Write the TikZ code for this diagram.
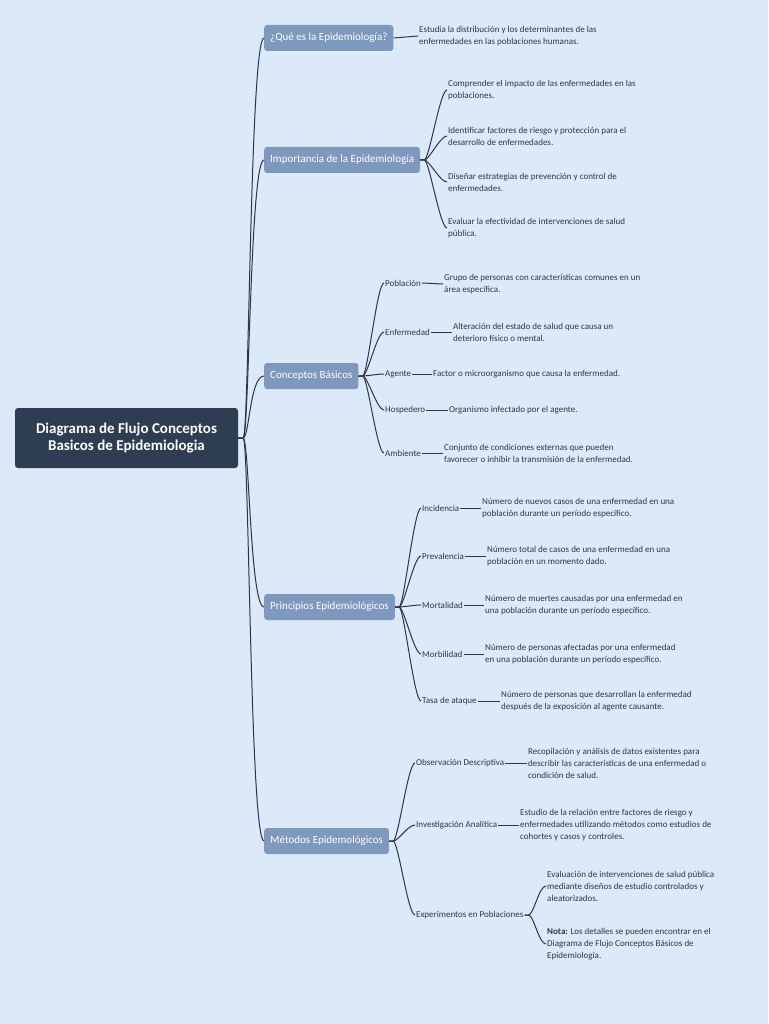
\documentclass[tikz,border=0pt]{standalone}
\usepackage{fontspec}
\setmainfont{Carlito}
\usetikzlibrary{calc}
\definecolor{bg}{HTML}{DCE9F8}
\definecolor{rootc}{HTML}{2E3D52}
\definecolor{brc}{HTML}{7E98BE}
\definecolor{linec}{HTML}{2B3648}
\definecolor{txt}{HTML}{303540}
\tikzset{
 rootbox/.style={fill=rootc,rounded corners=3pt,text=white,font=\fontsize{15}{17}\selectfont\bfseries,minimum width=223pt,minimum height=60pt,align=center},
 brbox/.style={fill=brc,rounded corners=3pt,text=white,font=\fontsize{11}{13}\selectfont,minimum height=26pt,inner xsep=6pt,anchor=west},
 leaf/.style={text=txt,font=\fontsize{9}{12}\selectfont,align=left,anchor=west,inner sep=1pt},
 conn/.style={draw=linec,line width=1pt},
}
\newcommand{\lnk}[2]{\draw[conn] (#1.east) -- ++(4,0) .. controls +(5,0) and ($(#2.west)+(-7,0)$) .. (#2.west);}
\newcommand{\dash}[2]{\draw[conn] (#1.east) -- (#2.west);}
\begin{document}
\begin{tikzpicture}[x=1pt,y=-1pt]
\fill[bg] (0,0) rectangle (768,1024);
\useasboundingbox (0,0) rectangle (768,1024);
\node[rootbox] (root) at (126.5,438) {Diagrama de Flujo Conceptos\\Basicos de Epidemiologia};
\node[brbox] (b1) at (264,38) {¿Qué es la Epidemiología?};
\node[brbox] (b2) at (264,160) {Importancia de la Epidemiología};
\node[brbox] (b3) at (264,376) {Conceptos Básicos};
\node[brbox] (b4) at (264,607) {Principios Epidemiológicos};
\node[brbox] (b5) at (264,841) {Métodos Epidemológicos};
\foreach \b in {b1,b2,b3,b4,b5}{
 \draw[conn] (root.east) -- ++(5,0) .. controls +(6,0) and ($(\b.west)+(-14,0)$) .. (\b.west);
}
% b1
\node[leaf] (q1) at (418,36) {Estudia la distribución y los determinantes de las\\enfermedades en las poblaciones humanas.};
\dash{b1}{q1}
% b2
\node[leaf] (i1) at (447,90) {Comprender el impacto de las enfermedades en las\\poblaciones.};
\node[leaf] (i2) at (447,136) {Identificar factores de riesgo y protección para el\\desarrollo de enfermedades.};
\node[leaf] (i3) at (447,182) {Diseñar estrategias de prevención y control de\\enfermedades.};
\node[leaf] (i4) at (447,228) {Evaluar la efectividad de intervenciones de salud\\pública.};
\foreach \c in {i1,i2,i3,i4}{\lnk{b2}{\c}}
% b3
\node[leaf] (c1) at (384,283) {Población};
\node[leaf] (c2) at (384,332) {Enfermedad};
\node[leaf] (c3) at (384,374) {Agente};
\node[leaf] (c4) at (384,410) {Hospedero};
\node[leaf] (c5) at (384,453) {Ambiente};
\foreach \c in {c1,c2,c3,c4,c5}{\lnk{b3}{\c}}
\node[leaf] (d1) at (443,284) {Grupo de personas con características comunes en un\\área específica.};
\node[leaf] (d2) at (452,332) {Alteración del estado de salud que causa un\\deterioro físico o mental.};
\node[leaf] (d3) at (432,374) {Factor o microorganismo que causa la enfermedad.};
\node[leaf] (d4) at (448,410) {Organismo infectado por el agente.};
\node[leaf] (d5) at (443,453) {Conjunto de condiciones externas que pueden\\favorecer o inhibir la transmisión de la enfermedad.};
\dash{c1}{d1}\dash{c2}{d2}\dash{c3}{d3}\dash{c4}{d4}\dash{c5}{d5}
% b4
\node[leaf] (p1) at (421,508) {Incidencia};
\node[leaf] (p2) at (421,556) {Prevalencia};
\node[leaf] (p3) at (421,605) {Mortalidad};
\node[leaf] (p4) at (421,654) {Morbilidad};
\node[leaf] (p5) at (421,701) {Tasa de ataque};
\foreach \c in {p1,p2,p3,p4,p5}{\lnk{b4}{\c}}
\node[leaf] (e1) at (481,508) {Número de nuevos casos de una enfermedad en una\\población durante un período específico.};
\node[leaf] (e2) at (486,556) {Número total de casos de una enfermedad en una\\población en un momento dado.};
\node[leaf] (e3) at (484,605) {Número de muertes causadas por una enfermedad en\\una población durante un período específico.};
\node[leaf] (e4) at (484,654) {Número de personas afectadas por una enfermedad\\en una población durante un período específico.};
\node[leaf] (e5) at (500,701) {Número de personas que desarrollan la enfermedad\\después de la exposición al agente causante.};
\dash{p1}{e1}\dash{p2}{e2}\dash{p3}{e3}\dash{p4}{e4}\dash{p5}{e5}
% b5
\node[leaf] (m1) at (415,763) {Observación Descriptiva};
\node[leaf] (m2) at (415,825) {Investigación Analítica};
\node[leaf] (m3) at (415,915) {Experimentos en Poblaciones};
\foreach \c in {m1,m2,m3}{\lnk{b5}{\c}}
\node[leaf] (n1) at (527,763) {Recopilación y análisis de datos existentes para\\describir las características de una enfermedad o\\condición de salud.};
\node[leaf] (n2) at (519,825) {Estudio de la relación entre factores de riesgo y\\enfermedades utilizando métodos como estudios de\\cohortes y casos y controles.};
\dash{m1}{n1}\dash{m2}{n2}
\node[leaf] (x1) at (546,886) {Evaluación de intervenciones de salud pública\\mediante diseños de estudio controlados y\\aleatorizados.};
\node[leaf] (x2) at (546,944) {\textbf{Nota:} Los detalles se pueden encontrar en el\\Diagrama de Flujo Conceptos Básicos de\\Epidemiología.};
\lnk{m3}{x1}\lnk{m3}{x2}
\end{tikzpicture}
\end{document}
